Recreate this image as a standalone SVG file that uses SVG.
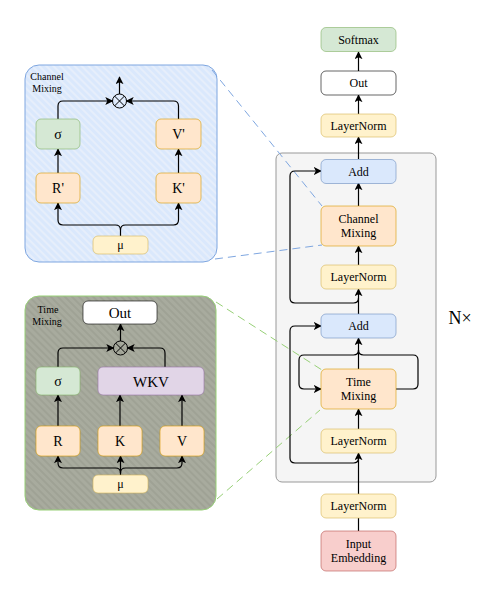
<svg xmlns="http://www.w3.org/2000/svg" width="489" height="592" viewBox="0 0 489 592">
<style>
text{font-family:"Liberation Serif","Times New Roman",serif;fill:#000;text-anchor:middle}
.t12{font-size:12px}
.t13{font-size:14px}
.t14{font-size:15px}
.t10{font-size:10px}
.ln{fill:none;stroke:#000;stroke-width:1.2}
.arr{marker-end:url(#ah)}
.green{fill:#d5e8d4;stroke:#82b366}
.white{fill:#fff;stroke:#000}
.yellow{fill:#fff2cc;stroke:#d6b656}
.blue{fill:#dae8fc;stroke:#6c8ebf}
.orange{fill:#ffe6cc;stroke:#d79b00}
.red{fill:#f8cecc;stroke:#b85450}
.purple{fill:#e1d5e7;stroke:#9673a6}
.node rect{stroke-width:1;stroke-opacity:0.6}
.dashb{fill:none;stroke:#7ea6e0;stroke-width:1;stroke-dasharray:8 5}
.dashg{fill:none;stroke:#97d077;stroke-width:1;stroke-dasharray:8 5}
</style>
<defs>
<marker id="ah" viewBox="0 0 10 10" refX="9" refY="5" markerWidth="8" markerHeight="8" markerUnits="userSpaceOnUse" orient="auto">
<path d="M0,0 L10,5 L0,10 L2.5,5 Z" fill="#000"/>
</marker>
<pattern id="hb" patternUnits="userSpaceOnUse" width="5" height="5" patternTransform="rotate(-45)">
<rect width="5" height="5" fill="#dae8fc"/>
<rect width="2" height="5" fill="#e6eefb"/>
</pattern>
<pattern id="hg" patternUnits="userSpaceOnUse" width="5" height="5" patternTransform="rotate(-45)">
<rect width="5" height="5" fill="#a8ab9e"/>
<rect width="2" height="5" fill="#9fa295"/>
</pattern>
</defs>

<!-- gray block -->
<rect id="block" x="276" y="153" width="160" height="329" rx="6" fill="#f5f5f5" stroke="#999" stroke-width="1"/>
<text x="460" y="324" style="font-size:18px">N×</text>

<!-- panels -->
<g id="channel-panel">
<rect x="25" y="65" width="192" height="197" rx="14" fill="url(#hb)" stroke="#7ea6e0" stroke-width="1"/>
<text class="t10" x="47" y="80">Channel</text>
<text class="t10" x="47" y="92">Mixing</text>
</g>
<g id="time-panel">
<rect x="25" y="296" width="191" height="214" rx="14" fill="url(#hg)" stroke="#97d077" stroke-width="1"/>
<text class="t10" x="48" y="313">Time</text>
<text class="t10" x="47" y="325">Mixing</text>
</g>

<!-- connectors -->
<g id="connectors">
<line class="dashb" x1="212" y1="70" x2="322" y2="206"/>
<line class="dashb" x1="215" y1="259" x2="322" y2="245"/>
<line class="dashg" x1="216" y1="302" x2="322" y2="370"/>
<line class="dashg" x1="217" y1="499" x2="320" y2="410"/>

<!-- main column -->
<path class="ln arr" d="M358.5,71 L358.5,52"/>
<path class="ln arr" d="M358.5,114 L358.5,95"/>
<path class="ln arr" d="M358.5,159 L358.5,137"/>
<path class="ln arr" d="M358.5,206 L358.5,183"/>
<path class="ln arr" d="M358.5,265 L358.5,246"/>
<path class="ln arr" d="M358.5,314 L358.5,289"/>
<path class="ln arr" d="M358.5,369 L358.5,338"/>
<path class="ln arr" d="M358.5,429 L358.5,409"/>
<path class="ln arr" d="M358.5,494 L358.5,453"/>
<path class="ln" d="M358.5,531 L358.5,518"/>
<path class="ln arr" d="M358.5,298 Q358.5,303 353.5,303 L295,303 Q290,303 290,298 L290,176 Q290,171 295,171 L321,171"/>
<path class="ln arr" d="M358.5,458 Q358.5,463 353.5,463 L295,463 Q290,463 290,458 L290,331 Q290,326 295,326 L321,326"/>
<path class="ln arr" d="M358.5,350 Q358.5,355 353.5,355 L304,355 Q299,355 299,360 L299,384 Q299,389 304,389 L321,389"/>
<path class="ln" d="M396,389 L413,389 Q418,389 418,384 L418,360 Q418,355 413,355 L363.5,355 Q358.5,355 358.5,350"/>

<!-- channel panel -->
<path class="ln arr" d="M119.5,94 L119.5,77"/>
<path class="ln arr" d="M58,119 L58,106 Q58,101 63,101 L112.5,101"/>
<path class="ln arr" d="M178.5,119 L178.5,106 Q178.5,101 173.5,101 L126.5,101"/>
<path class="ln arr" d="M58,173 L58,149"/>
<path class="ln arr" d="M178.5,173 L178.5,149"/>
<path class="ln arr" d="M120.5,236 L120.5,230 Q120.5,225 115.5,225 L63,225 Q58,225 58,220 L58,203"/>
<path class="ln arr" d="M120.5,230 Q120.5,225 125.5,225 L173.5,225 Q178.5,225 178.5,220 L178.5,203"/>

<!-- time panel -->
<path class="ln arr" d="M120.5,341 L120.5,324"/>
<path class="ln arr" d="M58,367 L58,353 Q58,348 63,348 L113.5,348"/>
<path class="ln arr" d="M165,367 L165,353 Q165,348 160,348 L127.5,348"/>
<path class="ln arr" d="M58,426 L58,395"/>
<path class="ln arr" d="M120,426 L120,395"/>
<path class="ln arr" d="M182,426 L182,395"/>
<path class="ln arr" d="M120.5,475 L120.5,456"/>
<path class="ln arr" d="M120.5,473 Q120.5,468 115.5,468 L63,468 Q58,468 58,463 L58,456"/>
<path class="ln arr" d="M120.5,473 Q120.5,468 125.5,468 L177,468 Q182,468 182,463 L182,456"/>
</g>

<!-- main nodes -->
<g id="softmax" class="node"><rect class="green" x="321" y="27.5" width="75" height="24" rx="5"/><text class="t12" x="358.5" y="43.5">Softmax</text></g>
<g id="out" class="node"><rect class="white" x="321" y="71" width="75" height="24" rx="5"/><text class="t12" x="358.5" y="87">Out</text></g>
<g id="layernorm-final" class="node"><rect class="yellow" x="321" y="114" width="75" height="23" rx="5"/><text class="t12" x="358.5" y="129.5">LayerNorm</text></g>
<g id="add-top" class="node"><rect class="blue" x="321" y="159.5" width="75" height="24" rx="5"/><text class="t12" x="358.5" y="175.5">Add</text></g>
<g id="channel-mixing" class="node"><rect class="orange" x="321" y="206" width="75" height="40" rx="5"/><text class="t12" x="358.5" y="223">Channel</text><text class="t12" x="358.5" y="237">Mixing</text></g>
<g id="layernorm-2" class="node"><rect class="yellow" x="321" y="265" width="75" height="24" rx="5"/><text class="t12" x="358.5" y="281">LayerNorm</text></g>
<g id="add-bottom" class="node"><rect class="blue" x="321" y="314" width="75" height="24" rx="5"/><text class="t12" x="358.5" y="330">Add</text></g>
<g id="time-mixing" class="node"><rect class="orange" x="321" y="369" width="75" height="40" rx="5"/><text class="t12" x="358.5" y="386">Time</text><text class="t12" x="358.5" y="400">Mixing</text></g>
<g id="layernorm-1" class="node"><rect class="yellow" x="321" y="429" width="75" height="24" rx="5"/><text class="t12" x="358.5" y="445">LayerNorm</text></g>
<g id="layernorm-0" class="node"><rect class="yellow" x="321" y="494" width="75" height="24" rx="5"/><text class="t12" x="358.5" y="510">LayerNorm</text></g>
<g id="input-embedding" class="node"><rect class="red" x="321" y="531" width="75" height="40" rx="5"/><text class="t12" x="358.5" y="548">Input</text><text class="t12" x="358.5" y="562">Embedding</text></g>

<!-- channel panel nodes -->
<g id="cm-mult"><circle cx="119.5" cy="101" r="7" fill="none" stroke="#000" stroke-width="1"/><path d="M114.5,96 L124.5,106 M124.5,96 L114.5,106" stroke="#000" stroke-width="1"/></g>
<g id="cm-sigma" class="node"><rect class="green" x="36" y="119" width="44" height="30" rx="5"/><text class="t13" x="58" y="138.5">σ</text></g>
<g id="cm-v" class="node"><rect class="orange" x="156" y="119" width="45" height="30" rx="5"/><text class="t13" x="178.5" y="139">V'</text></g>
<g id="cm-r" class="node"><rect class="orange" x="36" y="173" width="44" height="30" rx="5"/><text class="t13" x="58" y="193">R'</text></g>
<g id="cm-k" class="node"><rect class="orange" x="156" y="173" width="45" height="30" rx="5"/><text class="t13" x="178.5" y="193">K'</text></g>
<g id="cm-mu" class="node"><rect class="yellow" x="93" y="236" width="55" height="18" rx="5"/><text class="t12" x="120.5" y="249">μ</text></g>

<!-- time panel nodes -->
<g id="tm-out" class="node"><rect class="white" x="83" y="301" width="74" height="23" rx="5"/><text class="t14" x="120" y="318">Out</text></g>
<g id="tm-mult"><circle cx="120.5" cy="348" r="7" fill="none" stroke="#000" stroke-width="1"/><path d="M115.5,343 L125.5,353 M125.5,343 L115.5,353" stroke="#000" stroke-width="1"/></g>
<g id="tm-sigma" class="node"><rect class="green" x="36" y="367" width="44" height="28" rx="5"/><text class="t13" x="58" y="385.5">σ</text></g>
<g id="tm-wkv" class="node"><rect class="purple" x="98" y="367" width="106" height="28" rx="5"/><text class="t14" x="151" y="386.5">WKV</text></g>
<g id="tm-r" class="node"><rect class="orange" x="36" y="426" width="44" height="30" rx="5"/><text class="t13" x="58" y="446">R</text></g>
<g id="tm-k" class="node"><rect class="orange" x="98" y="426" width="44" height="30" rx="5"/><text class="t13" x="120" y="446">K</text></g>
<g id="tm-v" class="node"><rect class="orange" x="160" y="426" width="44" height="30" rx="5"/><text class="t13" x="182" y="446">V</text></g>
<g id="tm-mu" class="node"><rect class="yellow" x="93" y="475" width="55" height="18" rx="5"/><text class="t12" x="120.5" y="488">μ</text></g>
</svg>
